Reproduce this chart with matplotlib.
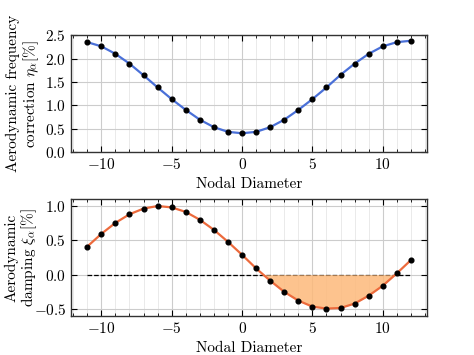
import numpy as np
import matplotlib
matplotlib.use("Agg")
import matplotlib.pyplot as plt
from matplotlib.ticker import MultipleLocator

plt.rcParams["font.family"] = "serif"
plt.rcParams["font.serif"] = ["cmr10"]
plt.rcParams["mathtext.fontset"] = "cm"
plt.rcParams["axes.formatter.use_mathtext"] = True
plt.rcParams["font.size"] = 11

nd = np.arange(-11, 13)
freq_corr = [2.35, 2.26, 2.10, 1.89, 1.64, 1.38, 1.13, 0.90, 0.69, 0.53, 0.43, 0.40,
             0.43, 0.53, 0.69, 0.90, 1.13, 1.38, 1.65, 1.89, 2.10, 2.26, 2.35, 2.38]
damping = [0.41, 0.595, 0.755, 0.88, 0.963, 1.0, 0.98, 0.914, 0.80, 0.653, 0.479, 0.29,
           0.092, -0.087, -0.25, -0.377, -0.464, -0.493, -0.484, -0.42, -0.305, -0.16, 0.02, 0.213]
freq_corr = np.array(freq_corr)
damping = np.array(damping)

fig = plt.figure(figsize=(4.74, 3.55), dpi=100)
ax1 = fig.add_axes([0.150, 0.572, 0.751, 0.329])
ax2 = fig.add_axes([0.150, 0.110, 0.751, 0.329])

ax1.plot(nd, freq_corr, color="#4a70d8", lw=1.6, zorder=2)
ax1.plot(nd, freq_corr, "o", color="black", ms=3.4, zorder=3)
ax1.set_ylim(0, 2.5)
ax1.set_ylabel("Aerodynamic frequency\ncorrection $\\eta_\\alpha [\\%]$", linespacing=1.1)
ax1.yaxis.set_label_coords(-0.085, 0.5)

ax2.plot(nd, damping, color="#ec6a3c", lw=1.6, zorder=2)
ax2.plot(nd, damping, "o", color="black", ms=3.4, zorder=3)
ax2.plot(nd, np.zeros_like(damping), "--", color="black", lw=0.9, zorder=1)
ax2.fill_between(nd, damping, 0, where=damping < 0, interpolate=True,
                 color="#fdb97a", alpha=0.85, lw=0, zorder=1)
ax2.set_ylim(-0.6, 1.1)
ax2.set_ylabel("Aerodynamic\ndamping $\\xi_\\alpha [\\%]$", linespacing=1.1)
ax2.yaxis.set_label_coords(-0.09, 0.5)

for ax in (ax1, ax2):
    ax.set_xlim(-12.15, 13.15)
    ax.xaxis.set_major_locator(MultipleLocator(5))
    ax.xaxis.set_minor_locator(MultipleLocator(1))
    ax.yaxis.set_major_locator(MultipleLocator(0.5))
    ax.grid(True, which="major", color="#cccccc", lw=0.8)
    ax.grid(True, which="minor", axis="x", color="#e6e6e6", lw=0.6)
    ax.set_axisbelow(True)
    ax.tick_params(which="both", direction="in", top=True, right=True)
    ax.tick_params(which="major", length=4)
    ax.tick_params(which="minor", length=2)
    ax.set_xlabel("Nodal Diameter")
    for s in ax.spines.values():
        s.set_linewidth(1.0)
        s.set_color("#333333")

fig.savefig("out.png", dpi=100)
